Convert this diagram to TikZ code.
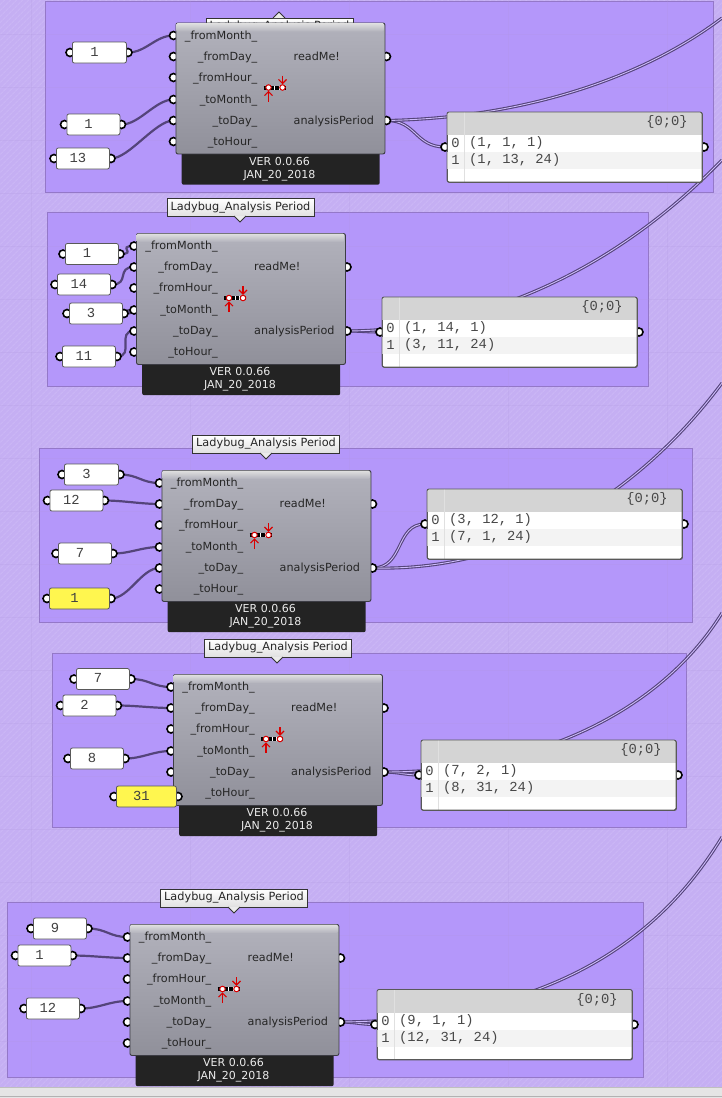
\documentclass[tikz,border=0pt]{standalone}
\usepackage{fontspec}
\setmainfont{DejaVu Sans}
\newfontfamily\codefont{Liberation Mono}
\usetikzlibrary{arrows.meta,patterns.meta}

\definecolor{canvasbg}{HTML}{C5AFF3}
\definecolor{canvashatch}{HTML}{CAB6F5}
\definecolor{gridline}{HTML}{AF96DC}
\definecolor{groupfill}{HTML}{B497FA}
\definecolor{groupline}{HTML}{9478C8}
\definecolor{wirecol}{HTML}{54447A}
\definecolor{bodytop}{HTML}{B2B2BC}
\definecolor{bodybot}{HTML}{90909A}
\definecolor{bodyline}{HTML}{3C3C44}
\definecolor{verfill}{HTML}{232323}
\definecolor{headfill}{HTML}{D4D4D4}
\definecolor{rowfill}{HTML}{F3F3F3}
\definecolor{sliderfill}{HTML}{FFF64F}

\pgfdeclarelayer{back}
\pgfdeclarelayer{wires}
\pgfsetlayers{back,wires,main}

\tikzset{
    port/.style={circle,draw=black,fill=white,line width=1.6pt,minimum size=8pt,inner sep=0pt},
    groupbox/.style={draw=groupline,fill=groupfill,line width=0.9pt},
    bodybox/.style={draw=bodyline,top color=bodytop,bottom color=bodybot,rounded corners=2pt,
        line width=0.9pt,minimum width=209pt,minimum height=131pt,inner sep=0pt},
    verbox/.style={fill=verfill,rounded corners=2pt,minimum width=198pt,minimum height=38pt,inner sep=0pt},
    vertext/.style={text=white!92!black,font=\fontsize{11}{12}\selectfont,inner sep=0pt},
    portlabel/.style={text=black!85,font=\fontsize{11.2}{12}\selectfont,inner sep=0pt},
    numbox/.style={draw=black!65,rounded corners=2pt,line width=0.8pt,minimum height=21pt,inner sep=0pt,
        text=black!75,font=\codefont\fontsize{13.8}{15}\selectfont},
    tipbox/.style={draw=black!80,top color=white,bottom color=black!12,line width=0.8pt,
        minimum width=146pt,minimum height=18pt,inner sep=0pt,text=black!85,
        font=\fontsize{11.3}{12}\selectfont},
    panelbox/.style={draw=black!65,fill=white,rounded corners=2pt,line width=0.9pt,
        minimum width=255pt,minimum height=70pt,inner sep=0pt},
    paneltext/.style={inner sep=0pt,text=black!72,font=\codefont\fontsize{13.8}{15}\selectfont},
    paramwire/.style={draw=wirecol,line width=2.2pt},
    datawire/.style={draw=wirecol,double=groupfill!65!white,line width=1.1pt,double distance=0.9pt},
    iconwire/.style={draw=red!85!black,line width=1.1pt,-{Straight Barb[length=4pt,width=8pt]}},
    iconhole/.style={circle,draw=red!85!black,fill=white,line width=1pt,minimum size=5.5pt,inner sep=0pt},
}

% name, left edge and top edge of the body
\newcommand{\periodblock}[3]{
    \node[verbox,anchor=north west] (#1v) at (#2+6,#3+124) {};
    \node[vertext] (#1ver) at (#2+104,#3+138.5) {VER 0.0.66};
    \node[vertext] (#1jan) at (#2+104,#3+153) {JAN\_20\_2018};
    \foreach \pname/\plabel/\py in {fm/{\_fromMonth\_}/13,fd/{\_fromDay\_}/34,fh/{\_fromHour\_}/55,
            tm/{\_toMonth\_}/77,td/{\_toDay\_}/98,th/{\_toHour\_}/119}
        \node[port] (#1\pname) at (#2-2,#3+\py) {};
    \node[port] (#1rm) at (#2+211,#3+34) {};
    \node[port] (#1ap) at (#2+211,#3+98) {};
    \node[bodybox,anchor=north west] (#1) at (#2,#3) {};
    % the light strip on top of the body
    \path[top color=white!88!black,bottom color=bodytop,rounded corners=1.5pt]
        (#2+0.5,#3+0.5) rectangle (#2+208.5,#3+9);
    \foreach \pname/\plabel/\py in {fm/{\_fromMonth\_}/13,fd/{\_fromDay\_}/34,fh/{\_fromHour\_}/55,
            tm/{\_toMonth\_}/77,td/{\_toDay\_}/98,th/{\_toHour\_}/119}
        \node[portlabel,anchor=base east] (#1\pname t) at (#2+82,#3+\py+3.5) {\plabel};
    \node[portlabel,anchor=base west] (#1rmt) at (#2+118,#3+37.5) {readMe!};
    \node[portlabel,anchor=base west] (#1apt) at (#2+118,#3+101.5) {analysisPeriod};
    % the icon, a bar with two red pins
    \draw[line width=4pt,black] (#2+88,#3+65) -- (#2+110,#3+65);
    \draw[line width=4pt,white,dash pattern=on 1.3pt off 3.2pt] (#2+94,#3+65) -- (#2+106,#3+65);
    \node[iconhole] (#1ia) at (#2+93,#3+65) {};
    \node[iconhole] (#1ib) at (#2+107,#3+65) {};
    \draw[iconwire] (#2+93,#3+79) -- (#1ia);
    \draw[iconwire] (#2+107,#3+53) -- (#1ib);
}

% fill (optional), name, left edge, top edge, width, value
\newcommand{\numparam}[6][white]{
    \node[port] (#2l) at (#3-2,#4+10.5) {};
    \node[port] (#2r) at (#3+#5+2,#4+10.5) {};
    \node[numbox,fill=#1,anchor=west,minimum width=#5pt] (#2) at (#3,#4+10.5)
        {\raisebox{2pt}{#6\hspace{10pt}}};
}

% name, left edge, top edge, first row, second row
\newcommand{\datapanel}[5]{
    \node[port] (#1l) at (#2-2,#3+35) {};
    \node[port] (#1r) at (#2+257,#3+35) {};
    \node[panelbox,anchor=north west] (#1) at (#2,#3) {};
    \begin{scope}
        \clip[rounded corners=2pt] (#2,#3) rectangle (#2+255,#3+70);
        \fill[headfill] (#2,#3) rectangle (#2+255,#3+23);
        \fill[rowfill] (#2,#3+40) rectangle (#2+255,#3+57);
        \draw[black!12,line width=1pt] (#2+17,#3) -- (#2+17,#3+70);
    \end{scope}
    \draw[black!65,line width=0.9pt,rounded corners=2pt] (#2,#3) rectangle (#2+255,#3+70);
    \node[paneltext] (#1h) at (#2+220,#3+10) {\{0;0\}};
    \node[paneltext] (#1i) at (#2+8.5,#3+31) {0};
    \node[paneltext] (#1j) at (#2+8.5,#3+48) {1};
    \node[paneltext,anchor=west] (#1a) at (#2+22,#3+31) {#4};
    \node[paneltext,anchor=west] (#1b) at (#2+22,#3+48) {#5};
}

% name, centre x, centre y, x of the tip, y of the edge, y of the tip
\newcommand{\periodtip}[6]{
    \node[tipbox,minimum width=147pt] (#1) at (#2,#3) {Ladybug\_Analysis Period};
    \filldraw[draw=black!80,fill=white!92!black,line width=0.8pt]
        (#4-6,#5) -- (#4,#6) -- (#4+6,#5);
}

\begin{document}
\begin{tikzpicture}[x=1pt,y=-1pt]
    \useasboundingbox (0,0) rectangle (722,1098);

    % The canvas and the five groups go below everything else
    \begin{pgfonlayer}{back}
        \fill[canvasbg] (0,0) rectangle (722,1098);
        \fill[pattern={Lines[angle=45,distance=4pt,line width=1.3pt]},pattern color=canvashatch]
            (0,0) rectangle (722,1098);
        \filldraw[groupbox] (45,1) rectangle (713,192);
        \filldraw[groupbox] (47,212) rectangle (648,386);
        \filldraw[groupbox] (39,448) rectangle (692,622);
        \filldraw[groupbox] (52,653) rectangle (686,827);
        \filldraw[groupbox] (7,902) rectangle (643,1077);
        \foreach \gx in {31,190,349,508,667}
            \draw[gridline,line width=0.5pt,opacity=0.2] (\gx,0) -- (\gx,1087);
        \foreach \gy in {34,87,...,1087}
            \draw[gridline,line width=0.5pt,opacity=0.2] (0,\gy) -- (722,\gy);
        % the status bar at the lower edge
        \fill[black!10] (0,1087) rectangle (722,1098);
        \draw[black!25,line width=0.6pt] (0,1087) -- (722,1087);
        \draw[black!30,line width=0.6pt] (0,1096) -- (722,1096);
    \end{pgfonlayer}

    % The tips come first, the first one is mostly hidden by its body
    \periodtip{tipa}{279.5}{27}{279}{18}{12}
    \periodtip{tipb}{240.5}{207.5}{240}{216}{222}
    \periodtip{tipc}{266}{444}{266}{453}{459}
    \periodtip{tipd}{278}{648}{277}{657}{663}
    \periodtip{tipe}{234}{898}{234}{907}{913}

    \periodblock{pa}{175.5}{22.5}
    \periodblock{pb}{136}{233}
    \periodblock{pc}{161.5}{470}
    \periodblock{pd}{173}{674}
    \periodblock{pe}{129.5}{924}

    \numparam{aa}{72}{42}{54}{1}
    \numparam{ab}{66.5}{114}{53}{1}
    \numparam{ac}{56}{148}{53}{13}

    \numparam{ba}{65}{243.5}{53}{1}
    \numparam{bb}{57}{274}{53}{14}
    \numparam{bc}{69}{303}{53}{3}
    \numparam{bd}{62}{346}{53}{11}

    \numparam{ca}{64}{464}{54}{3}
    \numparam{cb}{49.5}{490}{53}{12}
    \numparam{cc}{58}{543}{53}{7}
    \numparam[sliderfill]{cd}{49}{588}{60}{1}

    \numparam{da}{76}{668.5}{53}{7}
    \numparam{db}{62.5}{695}{53}{2}
    \numparam{dc}{70}{748}{53}{8}
    \numparam[sliderfill]{dd}{116}{786}{60}{31}

    \numparam{ea}{33}{918}{53}{9}
    \numparam{eb}{17.5}{945}{53}{1}
    \numparam{ec}{26}{998}{53}{12}

    \datapanel{oa}{447}{112}{(1, 1, 1)}{(1, 13, 24)}
    \datapanel{ob}{382}{297}{(1, 14, 1)}{(3, 11, 24)}
    \datapanel{oc}{427}{489}{(3, 12, 1)}{(7, 1, 24)}
    \datapanel{od}{421}{740}{(7, 2, 1)}{(8, 31, 24)}
    \datapanel{oe}{377}{989.5}{(9, 1, 1)}{(12, 31, 24)}

    \coordinate (exita) at (722,18);
    \coordinate (exitb) at (722,160);
    \coordinate (exitc) at (722,383);
    \coordinate (exitd) at (722,613);
    \coordinate (exite) at (722,837);

    % All wires stay below the ports, bodies and panels
    \begin{pgfonlayer}{wires}
        \foreach \from/\to in {aar/pafm,abr/patm,acr/patd,bar/pbfm,bbr/pbfd,bcr/pbtm,bdr/pbtd,
                car/pcfm,cbr/pcfd,ccr/pctm,cdr/pctd,dar/pdfm,dbr/pdfd,dcr/pdtm,ear/pefm,ebr/pefd,ecr/petm}
            \draw[paramwire] (\from.center) .. controls +(18,0) and +(-18,0) .. (\to.center);

        \draw[datawire] (paap.center) .. controls +(30,0) and +(-30,0) .. (oal.center);
        \draw[datawire] (pbap.center) .. controls +(14,0) and +(-14,0) .. (obl.center);
        \draw[datawire] (pcap.center) .. controls +(32,0) and +(-30,0) .. (ocl.center);
        \draw[datawire] (pdap.center) .. controls +(14,0) and +(-14,0) .. (odl.center);
        \draw[datawire] (peap.center) .. controls +(14,0) and +(-14,0) .. (oel.center);

        \draw[datawire] (paap.center) .. controls (520,118) and (640,80) .. (exita);
        \draw[datawire] (pbap.center) .. controls (490,330) and (620,265) .. (exitb);
        \draw[datawire] (pcap.center) .. controls (530,572) and (650,480) .. (exitc);
        \draw[datawire] (pdap.center) .. controls (545,772) and (665,705) .. (exitd);
        \draw[datawire] (peap.center) .. controls (530,1020) and (650,955) .. (exite);
    \end{pgfonlayer}
\end{tikzpicture}
\end{document}
